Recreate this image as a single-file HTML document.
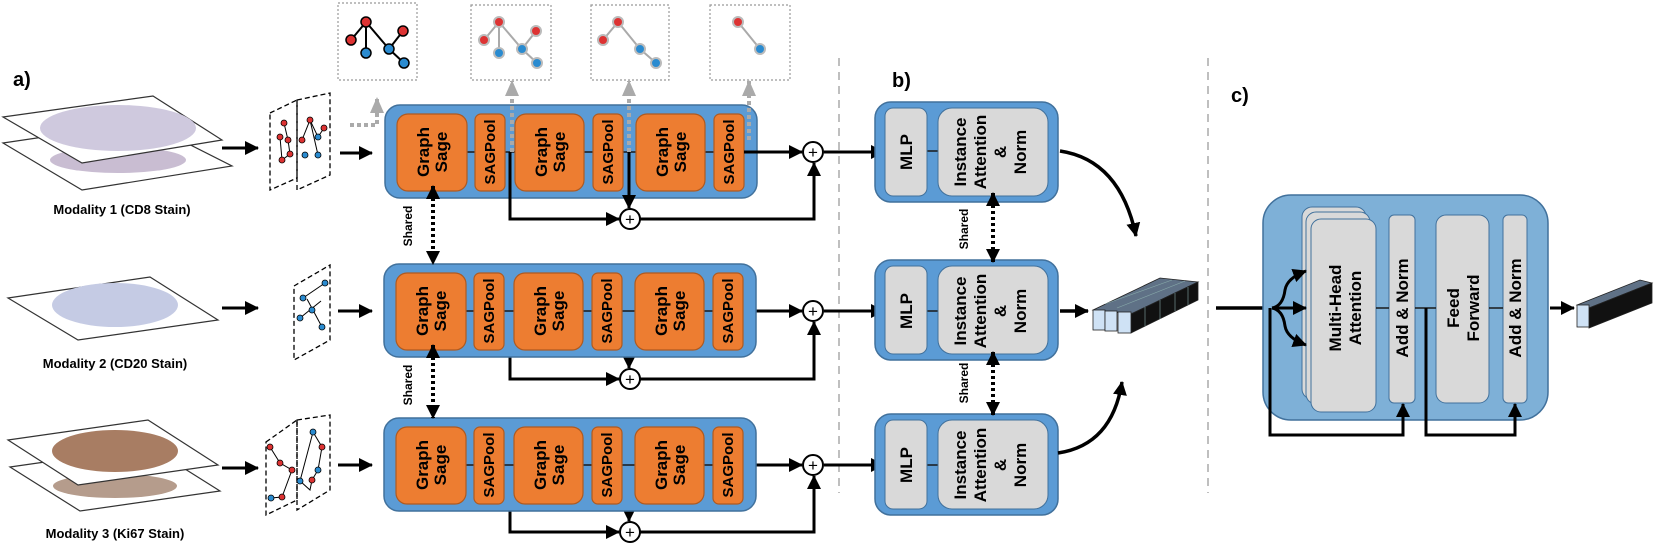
<!DOCTYPE html>
<html><head><meta charset="utf-8"><style>
html,body{margin:0;padding:0;background:#fff;}
svg{display:block;font-family:"Liberation Sans",sans-serif;font-weight:bold;}
</style></head><body>
<svg width="1661" height="544" viewBox="0 0 1661 544" xmlns="http://www.w3.org/2000/svg">
<defs>
<marker id="ah" markerWidth="10" markerHeight="10" refX="9" refY="5" orient="auto" markerUnits="userSpaceOnUse"><path d="M0,0 L10,5 L0,10 z" fill="#000"/></marker>
<marker id="ah2" markerWidth="14" markerHeight="14" refX="13" refY="7" orient="auto" markerUnits="userSpaceOnUse"><path d="M0,0 L14,7 L0,14 z" fill="#000"/></marker>
<marker id="as" markerWidth="14" markerHeight="14" refX="1" refY="7" orient="auto" markerUnits="userSpaceOnUse"><path d="M14,0 L0,7 L14,14 z" fill="#000"/></marker>
<marker id="ag" markerWidth="16" markerHeight="14" refX="15" refY="7" orient="auto" markerUnits="userSpaceOnUse"><path d="M0,0 L16,7 L0,14 z" fill="#aaa"/></marker>
</defs>

<text x="13" y="86" font-size="20">a)</text>
<text x="892" y="87" font-size="20">b)</text>
<text x="1231" y="102" font-size="20">c)</text>

<line x1="839" y1="58" x2="839" y2="493" stroke="#aaa" stroke-width="1.5" stroke-dasharray="8,6"/>
<line x1="1208" y1="58" x2="1208" y2="493" stroke="#aaa" stroke-width="1.5" stroke-dasharray="8,6"/>

<g stroke="#333" stroke-width="1.2">
<polygon points="3,143 145,122 232,166 82,190" fill="#fff"/>
<ellipse cx="118" cy="160" rx="68" ry="13" fill="#c9bdd2" stroke="none"/>
<polygon points="3,117 153,96 222,140 82,163" fill="#fff"/>
<ellipse cx="118" cy="128" rx="78" ry="23" fill="#cfc9de" stroke="none"/>

<polygon points="8,298 150,277 218,320 78,340" fill="#fff"/>
<ellipse cx="115" cy="305" rx="63" ry="22" fill="#c5cbe4" stroke="none"/>

<polygon points="10,467 150,447 220,491 80,511" fill="#fff"/>
<ellipse cx="115" cy="486" rx="62" ry="12" fill="#b59c8c" stroke="none"/>
<polygon points="8,440 148,420 218,465 78,485" fill="#fff"/>
<ellipse cx="115" cy="451" rx="63" ry="21" fill="#a87d63" stroke="none"/>
</g>
<text x="122" y="214" font-size="13" text-anchor="middle">Modality 1 (CD8 Stain)</text>
<text x="115" y="368" font-size="13" text-anchor="middle">Modality 2 (CD20 Stain)</text>
<text x="115" y="538" font-size="13" text-anchor="middle">Modality 3 (Ki67 Stain)</text>

<g stroke="#000" stroke-width="3" marker-end="url(#ah2)">
<line x1="222" y1="148" x2="258" y2="148"/>
<line x1="340" y1="153" x2="372" y2="153"/>
<line x1="222" y1="308" x2="258" y2="308"/>
<line x1="338" y1="311" x2="372" y2="311"/>
<line x1="222" y1="468" x2="258" y2="468"/>
<line x1="338" y1="465" x2="372" y2="465"/>
</g>

<g fill="none" stroke="#000" stroke-width="1.3" stroke-dasharray="5,3">
<polygon points="270,113 297,100 297,178 270,190"/>
<polygon points="297,100 330,93 330,175 297,190"/>
<polygon points="294,286 330,265 330,340 294,360"/>
<polygon points="266,442 297,420 297,500 266,515"/>
<polygon points="297,420 330,415 330,490 297,510"/>
</g>
<g stroke="#000" stroke-width="1">
<polyline points="280,137 282,160 290,154 288,140 284,123" fill="none"/>
<polyline points="302,140 310,120 318,137 324,128" fill="none"/>
<line x1="310" y1="120" x2="318" y2="155"/>
<line x1="303" y1="298" x2="325" y2="283"/><line x1="307" y1="299" x2="322" y2="327"/><line x1="300" y1="318" x2="321" y2="301"/>
<polyline points="270,447 280,463 292,470 282,497 271,498" fill="none"/>
<polyline points="300,481 313,432 322,447 318,470 312,480 310,490 300,481" fill="none"/>
</g>
<g stroke="#000" stroke-width="0.8">
<circle cx="280" cy="137" r="3" fill="#d33"/><circle cx="282" cy="160" r="3" fill="#d33"/><circle cx="290" cy="154" r="3" fill="#d33"/><circle cx="284" cy="123" r="3" fill="#d33"/><circle cx="288" cy="140" r="3" fill="#d33"/>
<circle cx="302" cy="140" r="3" fill="#d33"/><circle cx="310" cy="120" r="3" fill="#d33"/><circle cx="324" cy="128" r="3" fill="#d33"/><circle cx="318" cy="137" r="3" fill="#2a8bd0"/><circle cx="318" cy="155" r="3" fill="#2a8bd0"/><circle cx="305" cy="155" r="3" fill="#2a8bd0"/>
<circle cx="303" cy="298" r="3" fill="#2a8bd0"/><circle cx="325" cy="283" r="3" fill="#2a8bd0"/><circle cx="312" cy="310" r="3" fill="#2a8bd0"/><circle cx="322" cy="327" r="3" fill="#2a8bd0"/><circle cx="300" cy="318" r="3" fill="#2a8bd0"/>
<circle cx="270" cy="447" r="3" fill="#d33"/><circle cx="280" cy="463" r="3" fill="#d33"/><circle cx="292" cy="470" r="3" fill="#d33"/><circle cx="282" cy="497" r="3" fill="#d33"/><circle cx="271" cy="498" r="3" fill="#2a8bd0"/>
<circle cx="313" cy="432" r="3" fill="#2a8bd0"/><circle cx="322" cy="447" r="3" fill="#d33"/><circle cx="318" cy="470" r="3" fill="#2a8bd0"/><circle cx="312" cy="480" r="3" fill="#d33"/><circle cx="300" cy="481" r="3" fill="#2a8bd0"/>
</g>

<g fill="none" stroke="#999" stroke-width="1.2" stroke-dasharray="2,2">
<rect x="338" y="3" width="79" height="77"/>
<rect x="471" y="5" width="80" height="75"/>
<rect x="591" y="5" width="78" height="75"/>
<rect x="710" y="5" width="80" height="75"/>
</g>
<g stroke="#000" stroke-width="2">
<line x1="366" y1="22" x2="351" y2="40"/><line x1="366" y1="22" x2="366" y2="53"/><line x1="366" y1="22" x2="389" y2="49"/><line x1="389" y1="49" x2="403" y2="31"/><line x1="389" y1="49" x2="404" y2="63"/>
</g>
<g stroke="#000" stroke-width="1.5">
<circle cx="366" cy="22" r="5" fill="#d33"/><circle cx="351" cy="40" r="5" fill="#d33"/><circle cx="403" cy="31" r="5" fill="#d33"/><circle cx="366" cy="53" r="5" fill="#2a8bd0"/><circle cx="389" cy="49" r="5" fill="#2a8bd0"/><circle cx="404" cy="63" r="5" fill="#2a8bd0"/>
</g>
<g stroke="#aaa" stroke-width="2">
<line x1="499" y1="22" x2="484" y2="40"/><line x1="499" y1="22" x2="499" y2="53"/><line x1="499" y1="22" x2="522" y2="49"/><line x1="522" y1="49" x2="536" y2="31"/><line x1="522" y1="49" x2="537" y2="63"/>
<line x1="618" y1="22" x2="603" y2="40"/><line x1="618" y1="22" x2="640" y2="49"/><line x1="640" y1="49" x2="656" y2="63"/>
<line x1="738" y1="22" x2="760" y2="49"/>
</g>
<g stroke="#bbb" stroke-width="2">
<circle cx="499" cy="22" r="5" fill="#d33"/><circle cx="484" cy="40" r="5" fill="#d33"/><circle cx="536" cy="31" r="5" fill="#d33"/><circle cx="499" cy="53" r="5" fill="#2a8bd0"/><circle cx="522" cy="49" r="5" fill="#2a8bd0"/><circle cx="537" cy="63" r="5" fill="#2a8bd0"/>
<circle cx="618" cy="22" r="5" fill="#d33"/><circle cx="603" cy="40" r="5" fill="#d33"/><circle cx="640" cy="49" r="5" fill="#2a8bd0"/><circle cx="656" cy="63" r="5" fill="#2a8bd0"/>
<circle cx="738" cy="22" r="5" fill="#d33"/><circle cx="760" cy="49" r="5" fill="#2a8bd0"/>
</g>
<g stroke="#aaa" stroke-width="4" stroke-dasharray="4,3" fill="none">
<polyline points="350,125 377,125 377,98" marker-end="url(#ag)"/>
</g>

<g>
<rect x="385" y="105" width="372" height="93" rx="15" fill="#5b9bd5" stroke="#41719c" stroke-width="1.5"/>
<g stroke="#1a1a1a" stroke-width="1.5"><line x1="467" y1="152" x2="475" y2="152"/><line x1="505" y1="152" x2="515" y2="152"/><line x1="584" y1="152" x2="593" y2="152"/><line x1="623" y1="152" x2="636" y2="152"/><line x1="705" y1="152" x2="714" y2="152"/></g>
<g fill="#ed7d31" stroke="#ae5a21" stroke-width="1.2">
<rect x="397" y="114" width="70" height="77" rx="11"/><rect x="475" y="114" width="30" height="77" rx="6"/>
<rect x="515" y="114" width="69" height="77" rx="11"/><rect x="593" y="114" width="30" height="77" rx="6"/>
<rect x="636" y="114" width="69" height="77" rx="11"/><rect x="714" y="114" width="30" height="77" rx="6"/>
</g>
<g font-size="17" text-anchor="middle">
<text transform="translate(429,152) rotate(-90)">Graph</text><text transform="translate(447,152) rotate(-90)">Sage</text>
<text transform="translate(547,152) rotate(-90)">Graph</text><text transform="translate(565,152) rotate(-90)">Sage</text>
<text transform="translate(668,152) rotate(-90)">Graph</text><text transform="translate(686,152) rotate(-90)">Sage</text>
<g font-size="15">
<text transform="translate(495,152) rotate(-90)">SAGPool</text>
<text transform="translate(613,152) rotate(-90)">SAGPool</text>
<text transform="translate(734,152) rotate(-90)">SAGPool</text>
</g>
</g>
<g stroke="#aaa" stroke-width="4" stroke-dasharray="4,3" fill="none">
<line x1="512" y1="152" x2="512" y2="81" marker-end="url(#ag)"/>
<line x1="629" y1="152" x2="629" y2="81" marker-end="url(#ag)"/>
<line x1="749" y1="140" x2="749" y2="81" marker-end="url(#ag)"/>
</g>
</g>

<g stroke="#000" stroke-width="3" fill="none">
<polyline points="510,152 510,219 619,219" marker-end="url(#ah2)"/>
<line x1="629" y1="152" x2="629" y2="208" marker-end="url(#ah2)"/>
<polyline points="640,219 814,219 814,163" marker-end="url(#ah2)"/>
<line x1="744" y1="152" x2="802" y2="152" marker-end="url(#ah2)"/>
<line x1="824" y1="152" x2="884" y2="152" marker-end="url(#ah2)"/>
<polyline points="510,311 510,379 619,379" marker-end="url(#ah2)"/>
<line x1="629" y1="311" x2="629" y2="368" marker-end="url(#ah2)"/>
<polyline points="640,379 814,379 814,322" marker-end="url(#ah2)"/>
<line x1="744" y1="311" x2="802" y2="311" marker-end="url(#ah2)"/>
<line x1="824" y1="311" x2="884" y2="311" marker-end="url(#ah2)"/>
<polyline points="510,465 510,532 619,532" marker-end="url(#ah2)"/>
<line x1="629" y1="465" x2="629" y2="521" marker-end="url(#ah2)"/>
<polyline points="640,532 814,532 814,476" marker-end="url(#ah2)"/>
<line x1="744" y1="465" x2="802" y2="465" marker-end="url(#ah2)"/>
<line x1="824" y1="465" x2="884" y2="465" marker-end="url(#ah2)"/>
</g>
<g fill="#fff" stroke="#000" stroke-width="2">
<circle cx="813" cy="152" r="10"/><circle cx="630" cy="219" r="10"/>
<circle cx="813" cy="311" r="10"/><circle cx="630" cy="379" r="10"/>
<circle cx="813" cy="465" r="10"/><circle cx="630" cy="532" r="10"/>
</g>
<g font-size="17" font-weight="normal" text-anchor="middle">
<text x="813" y="158">+</text><text x="630" y="225">+</text>
<text x="813" y="317">+</text><text x="630" y="385">+</text>
<text x="813" y="471">+</text><text x="630" y="538">+</text>
</g>

<g transform="translate(-1,159)">
<rect x="385" y="105" width="372" height="93" rx="15" fill="#5b9bd5" stroke="#41719c" stroke-width="1.5"/>
<g stroke="#1a1a1a" stroke-width="1.5"><line x1="467" y1="152" x2="475" y2="152"/><line x1="505" y1="152" x2="515" y2="152"/><line x1="584" y1="152" x2="593" y2="152"/><line x1="623" y1="152" x2="636" y2="152"/><line x1="705" y1="152" x2="714" y2="152"/></g>
<g fill="#ed7d31" stroke="#ae5a21" stroke-width="1.2">
<rect x="397" y="114" width="70" height="77" rx="11"/><rect x="475" y="114" width="30" height="77" rx="6"/>
<rect x="515" y="114" width="69" height="77" rx="11"/><rect x="593" y="114" width="30" height="77" rx="6"/>
<rect x="636" y="114" width="69" height="77" rx="11"/><rect x="714" y="114" width="30" height="77" rx="6"/>
</g>
<g font-size="17" text-anchor="middle">
<text transform="translate(429,152) rotate(-90)">Graph</text><text transform="translate(447,152) rotate(-90)">Sage</text>
<text transform="translate(547,152) rotate(-90)">Graph</text><text transform="translate(565,152) rotate(-90)">Sage</text>
<text transform="translate(668,152) rotate(-90)">Graph</text><text transform="translate(686,152) rotate(-90)">Sage</text>
<g font-size="15">
<text transform="translate(495,152) rotate(-90)">SAGPool</text>
<text transform="translate(613,152) rotate(-90)">SAGPool</text>
<text transform="translate(734,152) rotate(-90)">SAGPool</text>
</g>
</g>
</g>
<g transform="translate(-1,313)">
<rect x="385" y="105" width="372" height="93" rx="15" fill="#5b9bd5" stroke="#41719c" stroke-width="1.5"/>
<g stroke="#1a1a1a" stroke-width="1.5"><line x1="467" y1="152" x2="475" y2="152"/><line x1="505" y1="152" x2="515" y2="152"/><line x1="584" y1="152" x2="593" y2="152"/><line x1="623" y1="152" x2="636" y2="152"/><line x1="705" y1="152" x2="714" y2="152"/></g>
<g fill="#ed7d31" stroke="#ae5a21" stroke-width="1.2">
<rect x="397" y="114" width="70" height="77" rx="11"/><rect x="475" y="114" width="30" height="77" rx="6"/>
<rect x="515" y="114" width="69" height="77" rx="11"/><rect x="593" y="114" width="30" height="77" rx="6"/>
<rect x="636" y="114" width="69" height="77" rx="11"/><rect x="714" y="114" width="30" height="77" rx="6"/>
</g>
<g font-size="17" text-anchor="middle">
<text transform="translate(429,152) rotate(-90)">Graph</text><text transform="translate(447,152) rotate(-90)">Sage</text>
<text transform="translate(547,152) rotate(-90)">Graph</text><text transform="translate(565,152) rotate(-90)">Sage</text>
<text transform="translate(668,152) rotate(-90)">Graph</text><text transform="translate(686,152) rotate(-90)">Sage</text>
<g font-size="15">
<text transform="translate(495,152) rotate(-90)">SAGPool</text>
<text transform="translate(613,152) rotate(-90)">SAGPool</text>
<text transform="translate(734,152) rotate(-90)">SAGPool</text>
</g>
</g>
</g>

<g stroke="#000" stroke-width="4" stroke-dasharray="3,3" marker-start="url(#as)" marker-end="url(#ah2)">
<line x1="433" y1="186" x2="433" y2="264"/>
<line x1="433" y1="345" x2="433" y2="418"/>
</g>
<g font-size="12" text-anchor="middle">
<text transform="translate(412,226) rotate(-90)">Shared</text>
<text transform="translate(412,385) rotate(-90)">Shared</text>
</g>

<g>
<rect x="875" y="102" width="183" height="100" rx="16" fill="#5b9bd5" stroke="#41719c" stroke-width="1.5"/>
<line x1="927" y1="151" x2="938" y2="151" stroke="#1a1a1a" stroke-width="1.5"/>
<rect x="885" y="108" width="42" height="88" rx="8" fill="#d9d9d9" stroke="#41719c"/>
<rect x="938" y="108" width="110" height="88" rx="14" fill="#d9d9d9" stroke="#41719c"/>
<rect x="875" y="260" width="183" height="100" rx="16" fill="#5b9bd5" stroke="#41719c" stroke-width="1.5"/>
<line x1="927" y1="311" x2="938" y2="311" stroke="#1a1a1a" stroke-width="1.5"/>
<rect x="885" y="266" width="42" height="88" rx="8" fill="#d9d9d9" stroke="#41719c"/>
<rect x="938" y="266" width="110" height="88" rx="14" fill="#d9d9d9" stroke="#41719c"/>
<rect x="875" y="414" width="183" height="101" rx="16" fill="#5b9bd5" stroke="#41719c" stroke-width="1.5"/>
<line x1="927" y1="465" x2="938" y2="465" stroke="#1a1a1a" stroke-width="1.5"/>
<rect x="885" y="420" width="42" height="89" rx="8" fill="#d9d9d9" stroke="#41719c"/>
<rect x="938" y="420" width="110" height="89" rx="14" fill="#d9d9d9" stroke="#41719c"/>
</g>
<g font-size="17" text-anchor="middle">
<text transform="translate(912,152) rotate(-90)">MLP</text>
<text transform="translate(966,152) rotate(-90)">Instance</text><text transform="translate(986,152) rotate(-90)">Attention</text><text transform="translate(1006,152) rotate(-90)">&amp;</text><text transform="translate(1026,152) rotate(-90)">Norm</text>
<text transform="translate(912,311) rotate(-90)">MLP</text>
<text transform="translate(966,311) rotate(-90)">Instance</text><text transform="translate(986,311) rotate(-90)">Attention</text><text transform="translate(1006,311) rotate(-90)">&amp;</text><text transform="translate(1026,311) rotate(-90)">Norm</text>
<text transform="translate(912,465) rotate(-90)">MLP</text>
<text transform="translate(966,465) rotate(-90)">Instance</text><text transform="translate(986,465) rotate(-90)">Attention</text><text transform="translate(1006,465) rotate(-90)">&amp;</text><text transform="translate(1026,465) rotate(-90)">Norm</text>
</g>
<g stroke="#000" stroke-width="4" stroke-dasharray="3,3" marker-start="url(#as)" marker-end="url(#ah2)">
<line x1="993" y1="193" x2="993" y2="262"/>
<line x1="993" y1="352" x2="993" y2="415"/>
</g>
<g font-size="12" text-anchor="middle">
<text transform="translate(968,229) rotate(-90)">Shared</text>
<text transform="translate(968,383) rotate(-90)">Shared</text>
</g>
<g stroke="#000" stroke-width="3.5" fill="none">
<path d="M1060,151 Q1120,160 1136,236" marker-end="url(#ah2)"/>
<path d="M1058,453 Q1112,445 1122,382" marker-end="url(#ah2)"/>
<line x1="1060" y1="311" x2="1088" y2="311" marker-end="url(#ah2)"/>
</g>

<g stroke="#222" stroke-width="0.8">
<polygon points="1093,310 1160,278 1198,282 1131,314" fill="#5f7186"/>
<polygon points="1131,314 1198,282 1198,300 1131,333" fill="#111"/>
<rect x="1093" y="310" width="12" height="20" fill="#cfe2f5"/>
<rect x="1105" y="311" width="12" height="20" fill="#cfe2f5"/>
<rect x="1118" y="312" width="13" height="21" fill="#cfe2f5"/>
</g>
<g stroke="#8aa" stroke-width="0.6">
<line x1="1105" y1="304" x2="1172" y2="280"/><line x1="1117" y1="308" x2="1185" y2="281"/>
<line x1="1145" y1="307" x2="1145" y2="326"/><line x1="1160" y1="300" x2="1160" y2="319"/><line x1="1175" y1="293" x2="1175" y2="311"/><line x1="1188" y1="287" x2="1188" y2="305"/>
</g>

<line x1="1216" y1="308" x2="1272" y2="308" stroke="#000" stroke-width="3.5"/>
<rect x="1263" y="195" width="285" height="225" rx="28" fill="#7eb0d7" stroke="#41719c" stroke-width="1.5"/>
<g fill="#d9d9d9" stroke="#41719c" stroke-width="1">
<rect x="1302" y="207" width="64" height="192" rx="10"/>
<rect x="1306" y="212" width="64" height="192" rx="10"/>
<rect x="1311" y="219" width="65" height="193" rx="10"/>
<rect x="1389" y="215" width="26" height="188" rx="5"/>
<rect x="1436" y="215" width="53" height="188" rx="10"/>
<rect x="1503" y="215" width="24" height="188" rx="5"/>
</g>
<g stroke="#1a1a1a" stroke-width="1.5">
<line x1="1376" y1="308" x2="1389" y2="308"/><line x1="1415" y1="308" x2="1436" y2="308"/><line x1="1489" y1="308" x2="1503" y2="308"/>
</g>
<g font-size="17" text-anchor="middle">
<text transform="translate(1341,308) rotate(-90)">Multi-Head</text><text transform="translate(1361,308) rotate(-90)">Attention</text>
<text transform="translate(1408,308) rotate(-90)">Add &amp; Norm</text>
<text transform="translate(1459,308) rotate(-90)">Feed</text><text transform="translate(1479,308) rotate(-90)">Forward</text>
<text transform="translate(1521,308) rotate(-90)">Add &amp; Norm</text>
</g>
<g stroke="#000" stroke-width="3" fill="none">
<line x1="1272" y1="308" x2="1306" y2="308" marker-end="url(#ah2)"/>
<path d="M1272,308 Q1283,306 1285,290 Q1287,278 1306,271" marker-end="url(#ah2)"/>
<path d="M1272,308 Q1283,310 1285,326 Q1287,338 1306,345" marker-end="url(#ah2)"/>
<polyline points="1270,308 1270,435 1403,435 1403,404" marker-end="url(#ah2)"/>
<polyline points="1426,308 1426,435 1515,435 1515,404" marker-end="url(#ah2)"/>
<line x1="1550" y1="308" x2="1574" y2="308" marker-end="url(#ah2)"/>
</g>
<g stroke="#222" stroke-width="0.8">
<polygon points="1577,305 1640,280 1652,283 1589,308" fill="#5f7186"/>
<polygon points="1589,308 1652,283 1652,303 1589,328" fill="#111"/>
<rect x="1577" y="305" width="12" height="22" fill="#cfe2f5"/>
</g>
</svg>
</body></html>
